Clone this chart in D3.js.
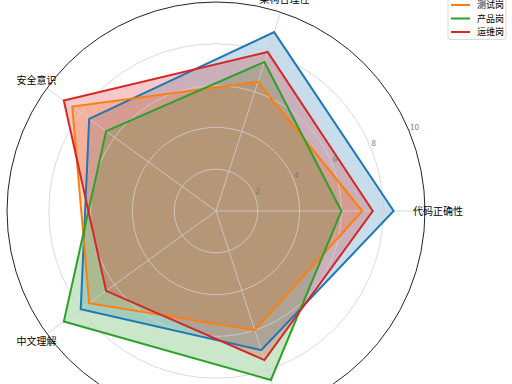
<!DOCTYPE html>
<html><head><meta charset="utf-8">
<script src="https://cdn.jsdelivr.net/npm/d3@7"></script>
<style>body{margin:0;background:#fff;overflow:hidden}svg{display:block}text{font-family:"Noto Sans CJK SC","DejaVu Sans",sans-serif}</style>
</head><body>
<svg id="c" width="512" height="384"></svg>
<script>
const categories = ["代码正确性", "架构合理性", "安全意识", "中文理解", "文档规范"];
const seriesNames = ["开发岗", "测试岗", "产品岗", "运维岗"];
const devValues = [8.5, 9.0, 7.5, 8.0, 7.0];
const testValues = [7.0, 6.5, 8.5, 7.5, 6.0];
const prodValues = [6.0, 7.5, 6.5, 9.0, 8.5];
const opsValues = [7.5, 8.0, 9.0, 6.5, 7.5];
const radialTicks = [2, 4, 6, 8, 10];
const colors = ["#1f77b4", "#ff7f0e", "#2ca02c", "#d62728"];

const series = [devValues, testValues, prodValues, opsValues];
const svg = d3.select("#c");
const cx = 216, cy = 211, R = 209;
const r = d3.scaleLinear().domain([0, 10]).range([0, R]);
const theta = i => i * 2 * Math.PI / categories.length; // matplotlib angle (ccw from right)
const d3ang = t => Math.PI / 2 - t;
const g = svg.append("g").attr("transform", `translate(${cx},${cy})`);
const line = d3.lineRadial().angle((d, i) => d3ang(theta(i))).radius(d => r(d)).curve(d3.curveLinearClosed);

// fills
series.forEach((vals, k) => {
  g.append("path").attr("d", line(vals)).attr("fill", colors[k]).attr("fill-opacity", 0.25).attr("stroke", "none");
});

// grid circles (above fills, below lines)
g.selectAll("circle.grid").data(radialTicks.slice(0, -1)).join("circle").attr("class", "grid")
  .attr("r", d => r(d)).attr("fill", "none").attr("stroke", "#d0d0d0").attr("stroke-width", 0.8);
// spokes
g.selectAll("line.spoke").data(categories).join("line").attr("class", "spoke")
  .attr("x1", 0).attr("y1", 0)
  .attr("x2", (d, i) => r(10) * Math.cos(theta(i)))
  .attr("y2", (d, i) => -r(10) * Math.sin(theta(i)))
  .attr("stroke", "#d0d0d0").attr("stroke-width", 0.8);

// lines
series.forEach((vals, k) => {
  g.append("path").attr("d", line(vals)).attr("fill", "none").attr("stroke", colors[k]).attr("stroke-width", 2).attr("stroke-linejoin", "miter");
});

// outer spine
g.append("circle").attr("r", r(10)).attr("fill", "none").attr("stroke", "#222").attr("stroke-width", 1);

// radial tick labels
const ra = 22.5 * Math.PI / 180;
g.selectAll("text.rt").data(radialTicks).join("text").attr("class", "rt")
  .attr("x", d => r(d) * Math.cos(ra) + 1)
  .attr("y", d => -r(d) * Math.sin(ra) - 1)
  .attr("font-size", 8).attr("fill", "#777").attr("text-anchor", "start")
  .text(d => d);

// category labels
g.selectAll("text.cat").data(categories).join("text").attr("class", "cat")
  .attr("x", (d, i) => (R + 13) * Math.cos(theta(i)))
  .attr("y", (d, i) => -(R + 13) * Math.sin(theta(i)))
  .attr("dy", "0.35em").attr("text-anchor", "middle")
  .attr("font-size", 10).attr("fill", "#000")
  .text(d => d);

// legend
const lg = svg.append("g").attr("transform", "translate(448,-16)");
lg.append("rect").attr("x", 0).attr("y", 0).attr("width", 58).attr("height", 55.5).attr("rx", 2)
  .attr("fill", "#fff").attr("fill-opacity", 0.8).attr("stroke", "#d0d0d0").attr("stroke-width", 0.8);
seriesNames.forEach((name, k) => {
  const y = 7.5 + k * 13.5;
  lg.append("line").attr("x1", 3).attr("x2", 22).attr("y1", y).attr("y2", y).attr("stroke", colors[k]).attr("stroke-width", 2);
  lg.append("text").attr("x", 29).attr("y", y).attr("dy", "0.35em").attr("font-size", 9).attr("fill", "#000").text(name);
});
</script>
</body></html>
